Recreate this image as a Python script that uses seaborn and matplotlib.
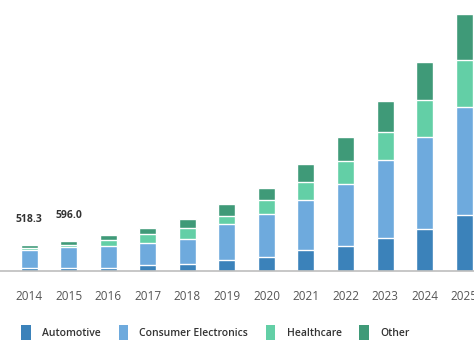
import numpy as np
import pandas as pd
import matplotlib
matplotlib.use('Agg')
import matplotlib.pyplot as plt
from matplotlib.patches import Patch
import seaborn as sns

# Market values by segment (stacked from bottom to top)
years = ['2014', '2015', '2016', '2017', '2018', '2019', '2020', '2021', '2022', '2023', '2024', '2025']
automotive = [60, 60, 66, 114, 146, 226, 280, 410, 500, 654, 834, 1114]
consumer = [366, 420, 426, 434, 500, 706, 846, 1000, 1234, 1560, 1846, 2154]
healthcare = [34, 36, 120, 186, 220, 166, 286, 366, 466, 554, 720, 934]
other = [58.3, 80, 100, 126, 180, 246, 246, 366, 466, 620, 760, 920]
annotated = {'2014': '518.3', '2015': '596.0'}

segments = ['Automotive', 'Consumer Electronics', 'Healthcare', 'Other']
colors = ['#3b82ba', '#6eaadd', '#63cfa6', '#3f9a78']

sns.set_style('white')
plt.rcParams['font.family'] = ['Open Sans', 'DejaVu Sans']

df = pd.DataFrame({'Year': years, 'Automotive': automotive,
                   'Consumer Electronics': consumer, 'Healthcare': healthcare,
                   'Other': other})
cum = df[segments].cumsum(axis=1)

fig = plt.figure(figsize=(4.74, 3.51), dpi=100)
ax = fig.add_axes([0, 80 / 351, 1, 271 / 351])

# draw tallest cumulative first so lower segments overlay it
for seg, color in zip(segments[::-1], colors[::-1]):
    sns.barplot(x=df['Year'], y=cum[seg], color=color, width=0.43,
                saturation=1, ax=ax, order=years)

ax.set_xlim(-0.74, 11.25)
ax.set_ylim(0, 5400)
ax.set_xlabel('')
ax.set_ylabel('')
ax.set_yticks([])
for s in ['top', 'left', 'right']:
    ax.spines[s].set_visible(False)
ax.spines['bottom'].set_color('#bdbdbd')
ax.spines['bottom'].set_linewidth(1.2)
ax.tick_params(axis='x', length=0, pad=14, labelsize=8.5, labelcolor='#555555')

totals = cum['Other'].values
for i, y in enumerate(years):
    if y in annotated:
        ax.text(i, totals[i] + 400, annotated[y], ha='center', va='bottom',
                fontsize=7.5, fontweight='bold', color='#333333')

handles = [Patch(facecolor=c, edgecolor='none') for c in colors]
fig.legend(handles, segments, loc='center left', bbox_to_anchor=(0.025, 0.052),
           ncol=4, frameon=False, fontsize=7.5, handlelength=0.9,
           handleheight=1.8, columnspacing=1.7, handletextpad=1.1,
           labelcolor='#333333', prop={'weight': 'semibold', 'size': 7.5})

fig.savefig('out.png', dpi=100)
